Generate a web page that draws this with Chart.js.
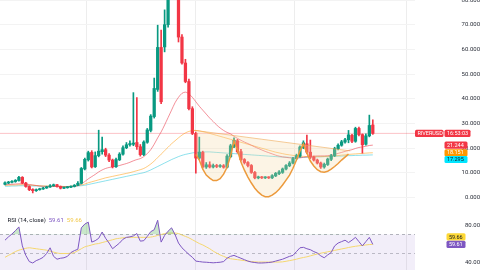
<!DOCTYPE html>
<html>
<head>
<meta charset="utf-8">
<title>RIVERUSD</title>
<script src="https://cdn.jsdelivr.net/npm/chart.js@4.4.1/dist/chart.umd.min.js"></script>
<style>
  html, body { margin: 0; padding: 0; background: #ffffff; }
  #wrap { position: relative; width: 480px; height: 270px; overflow: hidden; }
  #priceChart { position: absolute; left: 0; top: 0; }
  #rsiChart { position: absolute; left: 0; top: 207px; }
</style>
</head>
<body>
<div id="wrap">
  <canvas id="priceChart" width="480" height="207"></canvas>
  <canvas id="rsiChart" width="480" height="63"></canvas>
</div>
<script>
// candles (index = bar number)
const opens  = [5.4,5.9,6.2,6.5,6.9,8.2,5.9,4.5,3.3,2.8, 3.2,3.5,3.9,4.3,4.8,5.2,4.5,3.8,4.0,4.2, 4.5,5.0,5.8,11.6,15.3,18.3,12.5,17.0,18.6,19.4,
  17.2,15.2,12.5,15.3,17.6,20.2,21.4,21.6,22.3,20.6, 17.4,22.4,27.2,32.8,43.8,60.8,61.0,70.0,86.0,92.0, 100.0,65.0,54.5,47.0,36.0,26.0,16.0,18.3,12.4,13.3,
  12.4,13.0,12.6,12.9,12.3,16.6,20.8,23.0,18.6,15.4, 14.2,13.0,10.2,8.0,8.3,8.0,8.2,8.0,8.8,9.7, 10.2,11.6,12.9,14.0,15.8,16.8,20.3,21.8,18.4,16.4,
  15.2,14.0,12.4,13.4,15.5,17.0,19.8,21.2,22.5,23.4, 25.2,22.8,28.0,25.5,21.6,25.0,29.4];
const highs  = [6.4,6.6,6.9,7.3,8.6,8.5,6.2,4.8,3.6,3.5, 3.8,4.2,4.6,5.3,5.5,5.4,4.7,4.3,4.5,4.8, 5.3,6.5,12.2,16.0,18.8,19.0,18.5,27.3,24.5,20.0,
  17.8,15.6,16.0,18.2,21.0,22.3,23.0,42.5,40.5,21.5, 23.0,28.0,33.6,48.4,69.8,67.8,76.0,92.0,102.0,105.0, 104.0,66.0,56.0,48.0,36.8,26.5,24.5,18.8,14.2,14.5,
  13.6,13.5,13.4,13.4,17.4,21.6,24.2,23.6,19.5,15.8, 14.6,13.4,10.6,8.7,8.6,8.5,8.5,9.3,10.2,10.9, 12.0,13.4,14.6,16.3,17.6,21.0,23.0,25.3,23.3,16.8,
  15.6,14.4,14.0,16.0,17.5,20.4,21.8,23.2,24.0,27.2, 25.6,28.5,28.6,25.8,25.8,33.4,31.5];
const lows   = [5.1,5.6,5.9,6.2,6.7,5.6,4.2,2.8,1.9,2.5, 3.0,3.3,3.7,4.1,4.6,4.2,3.5,3.6,3.8,4.0, 4.3,4.8,5.5,11.2,14.8,12.0,12.2,16.5,17.6,16.6,
  14.6,12.0,12.2,15.0,17.2,19.8,20.8,21.0,19.5,16.8, 17.0,22.0,26.6,32.2,43.0,38.0,59.0,69.0,84.0,90.0, 63.0,54.0,46.5,35.5,25.5,9.9,15.5,12.0,11.8,12.0,
  12.0,12.1,12.2,11.9,12.0,16.2,20.2,18.0,14.8,13.6, 12.4,9.8,7.6,7.6,7.7,7.7,7.7,7.7,8.5,9.3, 9.8,11.2,12.5,13.6,15.4,16.4,19.8,17.8,15.8,14.8,
  13.6,11.8,11.9,13.0,15.0,16.6,19.3,20.8,22.0,22.2, 22.2,22.4,25.0,18.0,21.2,24.6,25.6];
const closes = [6.0,6.3,6.6,7.0,8.2,5.9,4.5,3.2,2.8,3.2, 3.5,3.9,4.3,4.8,5.2,4.5,3.8,4.0,4.2,4.5, 5.0,5.8,11.8,15.5,18.2,12.4,17.0,18.8,19.4,17.2,
  15.2,12.5,15.4,17.6,20.2,21.4,21.9,22.1,20.6,17.4, 22.5,27.4,33.0,44.2,60.8,38.8,70.0,86.0,96.0,100.0, 65.0,54.5,47.0,36.0,26.0,16.0,18.4,12.4,13.3,12.4,
  13.0,12.6,12.9,12.3,16.8,21.0,23.2,18.6,15.4,14.2, 13.0,10.2,8.0,8.3,8.0,8.2,8.0,8.9,9.8,10.4, 11.6,13.0,14.0,15.8,17.0,20.5,22.2,18.4,16.4,15.2,
  14.0,12.4,13.5,15.6,17.0,19.8,21.2,22.6,23.4,25.4, 22.8,28.0,25.5,21.4,25.0,29.2,26.0];

// moving averages
const maFast = [5.2,5.3,5.4,5.5,5.6,5.6,5.5,5.3,5.1,4.9, 4.7,4.6,4.5,4.5,4.5,4.5,4.4,4.4,4.4,4.5, 4.6,4.8,5.6,6.5,7.6,8.5,9.4,10.4,11.2,11.8,
  12.2,12.4,12.7,13.0,13.4,13.8,14.3,14.9,15.4,15.8, 16.6,17.8,19.4,21.6,24.2,26.6,29.4,32.4,35.4,38.4, 40.6,42.2,42.7,42.0,40.6,38.8,37.0,35.4,33.8,32.2,
  30.8,29.4,28.2,27.2,26.4,25.8,24.8,24.0,23.2,22.5, 21.9,21.2,20.5,19.9,19.3,18.7,18.2,17.7,17.2,16.8, 16.5,16.3,16.1,16.0,16.0,16.1,16.3,16.5,16.7,16.8,
  16.9,16.9,16.9,17.0,17.2,17.5,17.9,18.3,18.7,19.1, 19.4,19.9,20.3,20.5,20.8,21.1,21.244];
const maMid = [5.0,5.0,5.1,5.1,5.2,5.2,5.2,5.1,5.0,4.9, 4.8,4.7,4.7,4.6,4.6,4.6,4.6,4.5,4.5,4.6, 4.7,4.9,5.1,5.5,6.0,6.4,6.8,7.2,7.6,8.0,
  8.3,8.6,8.9,9.2,9.5,9.8,10.1,10.5,10.9,11.3, 11.8,12.6,13.6,14.8,16.2,17.6,19.0,20.4,21.8,23.0, 24.2,25.3,26.2,26.8,27.1,27.2,27.0,26.7,26.4,26.0,
  25.6,25.2,24.8,24.4,24.0,23.6,23.2,22.8,22.4,22.0, 21.6,21.2,20.8,20.4,20.0,19.6,19.2,18.8,18.4,18.1, 17.8,17.5,17.3,17.1,16.9,16.8,16.7,16.6,16.6,16.6,
  16.6,16.6,16.6,16.7,16.8,16.9,17.0,17.2,17.3,17.5, 17.6,17.7,17.8,17.9,18.0,18.1,18.151];
const maSlow = [4.6,4.6,4.7,4.7,4.8,4.8,4.8,4.8,4.7,4.7, 4.6,4.6,4.6,4.5,4.5,4.5,4.5,4.5,4.5,4.5, 4.6,4.7,4.8,5.0,5.3,5.6,5.9,6.2,6.5,6.8,
  7.1,7.4,7.7,8.0,8.3,8.6,8.9,9.2,9.5,9.8, 10.1,10.6,11.2,11.9,12.6,13.3,14.0,14.7,15.4,16.0, 16.6,17.1,17.5,17.8,18.1,18.3,18.4,18.5,18.5,18.5,
  18.4,18.3,18.2,18.1,18.0,17.9,17.8,17.7,17.6,17.5, 17.4,17.3,17.2,17.1,17.0,16.9,16.8,16.7,16.6,16.5, 16.4,16.4,16.3,16.3,16.3,16.3,16.3,16.3,16.4,16.4,
  16.5,16.5,16.6,16.6,16.7,16.7,16.8,16.8,16.9,17.0, 17.0,17.1,17.1,17.2,17.2,17.25,17.295];

// inverse head & shoulders drawing
const patternStart = 55;
const patternVals = [17.5,15.2,11.5,9.1,7.9,6.9,6.9,7.7,9.5,12.3, 16.8,22.9,19.2,14.4,11.1,8.3,5.9,3.8,2.2,1.0,
  0.4,0.4,1.0,2.0,3.4,5.1,7.1,9.1,11.9,15.2, 18.8,21.7,18.0,14.8,12.8,11.3,10.5,10.3,10.7,11.5, 12.6,13.8,15.2,16.4,17.6];
const neckX = [54.2, 99.5];
const neckY = [27.3, 18.9];

// RSI pane
const rsi = [64,67.5,70.5,74,78,58,48,41.5,40,42.5, 44,46,50,56,47,44,45,45.5,47,51, 53,54.5,77,81,83,62,63.5,66,72.6,66,
  61,55,58,61,65,67,67.5,68.5,71,63, 63.5,68,73,75,85,62,69,73.5,77,70, 61,56,52.5,49,46,42,41.5,41,40.8,40.5,
  40.2,40.5,40.8,41.5,45,47,48,46.5,45,43.5, 42,41,40.5,40,40,40.2,40.5,41,42,43, 44,45.5,47,48,52,56,56.5,55,54,52,
  50.5,47.5,45.5,48.5,51,58,61,62.5,64,61.5, 64,67,62.5,58,62.5,67,59.61];
const rsiMa = [46,48,50,52,53.5,54.5,55.5,56,55.5,55, 54.5,54,53.5,52.5,51.5,50.5,50,50,50,50.3, 51,53,55,57,58,59,60,60.5,61.5,62.5,
  63.5,64.5,65.5,66,66.5,66.8,67,67,67,67, 67,67,67.3,68,69,70,71,71.5,71.5,71.5, 71,69.5,68,66.5,64.5,62.5,60.5,59,57,55,
  52.5,50.5,48.5,47,45.5,44.5,44,43.5,43,42.5, 42,41.5,41.2,41,41,41,41,41,41,41, 41.2,41.8,42.5,43.2,44,45,45.8,46.5,47.5,48.5,
  49.5,50.3,51,51.8,52.5,53.3,54,54.8,55.5,56.3, 57,57.6,58.1,58.5,59,59.4,59.66];
const rsiLevels = [70, 50, 30];

const gridMarks = [23.6, 54.8, 83.3, 115.6];
const symbolName = 'RIVERUSD';
const countdown = '16:53:03';
const rsiTitle = 'RSI (14, close)';

const xMin = -1.44, xMax = 118.16;
const up = '#089981', down = '#f23645';
Chart.defaults.font.family = 'Roboto';

const candleColors = closes.map((c, i) => c >= opens[i] ? up : down);
const pts = arr => arr.map((v, i) => ({ x: i, y: v }));
const flat = v => [{ x: xMin, y: v }, { x: xMax, y: v }];

function xAxis() {
  return {
    type: 'linear', min: xMin, max: xMax, offset: false,
    ticks: { display: false },
    grid: { color: '#ededed', drawTicks: false, offset: false },
    border: { display: false },
    afterBuildTicks: s => { s.ticks = gridMarks.map(v => ({ value: v })); }
  };
}

// keep the price scale 65px wide and stop the label padding from shrinking the plot vertically
function fitRight(s) {
  s.width = 65;
  s.paddingTop = 0;
  s.paddingBottom = 0;
}

function pill(ctx, x, y, w, text, bg, fg) {
  ctx.fillStyle = bg;
  ctx.beginPath();
  ctx.roundRect(x, y - 3.6, w, 7.2, 1.5);
  ctx.fill();
  ctx.fillStyle = fg;
  ctx.textAlign = 'left';
  ctx.textBaseline = 'middle';
  ctx.fillText(text, x + 2.4, y + 0.3);
}

const priceTags = {
  id: 'priceTags',
  afterDraw(chart) {
    const ctx = chart.ctx, ys = chart.scales.y;
    ctx.save();
    ctx.font = '5.5px Roboto';
    const yp = ys.getPixelForValue(closes[closes.length - 1]);
    pill(ctx, 415, yp, 28.5, symbolName, down, '#ffffff');
    pill(ctx, 444.5, yp, 26, countdown, down, '#ffffff');
    const tags = [
      { v: maFast[maFast.length - 1], bg: '#f23645', fg: '#ffffff' },
      { v: maMid[maMid.length - 1], bg: '#ff9800', fg: '#ffffff' },
      { v: maSlow[maSlow.length - 1], bg: '#00e5ff', fg: '#131722' }
    ];
    let prev = -100;
    tags.forEach(t => {
      let y = Math.max(ys.getPixelForValue(t.v), prev + 6.7);
      pill(ctx, 444.5, y, 23, t.v.toFixed(3), t.bg, t.fg);
      prev = y;
    });
    ctx.restore();
  }
};

new Chart(document.getElementById('priceChart'), {
  type: 'line',
  data: {
    datasets: [
      { data: flat(closes[closes.length - 1]), borderColor: 'rgba(242,54,69,0.3)', borderWidth: 1, pointRadius: 0, order: 9 },
      { data: pts(maSlow), borderColor: 'rgba(0,188,212,0.45)', borderWidth: 1, pointRadius: 0, tension: 0.3, order: 8 },
      { data: pts(maMid), borderColor: 'rgba(255,152,0,0.5)', borderWidth: 1, pointRadius: 0, tension: 0.3, order: 7 },
      { data: pts(maFast), borderColor: 'rgba(235,70,85,0.6)', borderWidth: 1, pointRadius: 0, tension: 0.3, order: 6 },
      { type: 'bar', data: lows.map((l, i) => ({ x: i, y: [l, highs[i]] })), backgroundColor: candleColors,
        barThickness: 1, grouped: false, borderWidth: 0, clip: 0, order: 5 },
      { type: 'bar', data: opens.map((o, i) => ({ x: i, y: [o, closes[i]] })), backgroundColor: candleColors,
        barThickness: 2.6, grouped: false, borderWidth: 0, minBarLength: 1, clip: 0, order: 4 },
      { data: neckX.map((x, i) => ({ x: x, y: neckY[i] })), borderColor: 'rgba(236,154,60,0.55)', borderWidth: 1, pointRadius: 0, order: 3 },
      { data: patternVals.map((v, k) => ({ x: patternStart + k, y: v })), borderColor: '#ec9a3c', borderWidth: 1.5,
        pointRadius: 0, tension: 0,
        fill: { target: '-1', above: 'rgba(245,215,160,0.28)', below: 'rgba(245,215,160,0.28)' }, order: 2 }
    ]
  },
  options: {
    responsive: false, animation: false, devicePixelRatio: 1, events: [],
    layout: { padding: 0, autoPadding: false },
    plugins: { legend: { display: false }, tooltip: { enabled: false } },
    scales: {
      x: xAxis(),
      y: {
        position: 'right', min: -3.8, max: 80,
        afterFit: fitRight,
        ticks: { stepSize: 10, includeBounds: false, crossAlign: 'far', padding: 33, color: '#2a2e39',
          font: { size: 6 }, callback: v => Number(v).toFixed(3) },
        grid: { color: '#f3f3f3', drawTicks: false },
        border: { display: false }
      }
    }
  },
  plugins: [priceTags]
});

const rsiTags = {
  id: 'rsiTags',
  afterDraw(chart) {
    const ctx = chart.ctx, ys = chart.scales.y;
    ctx.save();
    ctx.font = '6px Roboto';
    ctx.textAlign = 'left';
    ctx.textBaseline = 'middle';
    let x = 7.5;
    ctx.fillStyle = '#131722';
    ctx.fillText(rsiTitle, x, 13);
    x += ctx.measureText(rsiTitle).width + 3;
    const a = rsi[rsi.length - 1].toFixed(2), b = rsiMa[rsiMa.length - 1].toFixed(2);
    ctx.fillStyle = '#7e57c2';
    ctx.fillText(a, x, 13);
    x += ctx.measureText(a).width + 3;
    ctx.fillStyle = '#f2c94c';
    ctx.fillText(b, x, 13);
    ctx.font = '5.5px Roboto';
    const yr = ys.getPixelForValue(rsi[rsi.length - 1]);
    const ym = Math.min(ys.getPixelForValue(rsiMa[rsiMa.length - 1]), yr - 7.4);
    pill(ctx, 446.5, ym, 19, b, '#fdd835', '#131722');
    pill(ctx, 446.5, yr, 19, a, '#7e57c2', '#ffffff');
    ctx.restore();
  }
};

new Chart(document.getElementById('rsiChart'), {
  type: 'line',
  data: {
    datasets: [
      { data: flat(rsiLevels[0]), borderColor: 'rgba(120,123,134,0.55)', borderWidth: 1, borderDash: [3, 3], pointRadius: 0,
        fill: { target: { value: rsiLevels[2] }, above: 'rgba(126,87,194,0.1)', below: 'rgba(126,87,194,0.1)' }, order: 5 },
      { data: flat(rsiLevels[1]), borderColor: 'rgba(120,123,134,0.45)', borderWidth: 1, borderDash: [3, 3], pointRadius: 0, order: 4 },
      { data: flat(rsiLevels[2]), borderColor: 'rgba(120,123,134,0.45)', borderWidth: 1, borderDash: [3, 3], pointRadius: 0, order: 3 },
      { data: pts(rsiMa), borderColor: '#f5d76e', borderWidth: 1, pointRadius: 0, tension: 0.3, order: 2 },
      { data: pts(rsi), borderColor: '#7e57c2', borderWidth: 1, pointRadius: 0, tension: 0,
        fill: { target: { value: rsiLevels[0] }, above: 'rgba(76,175,80,0.3)', below: 'rgba(0,0,0,0)' }, order: 1 }
    ]
  },
  options: {
    responsive: false, animation: false, devicePixelRatio: 1, events: [],
    layout: { padding: 0, autoPadding: false },
    plugins: { legend: { display: false }, tooltip: { enabled: false } },
    scales: {
      x: xAxis(),
      y: {
        position: 'right', min: 32.63, max: 98.95,
        afterFit: fitRight,
        ticks: { stepSize: 40, includeBounds: false, crossAlign: 'far', padding: 33, color: '#2a2e39',
          font: { size: 6 }, callback: v => Number(v).toFixed(2) },
        grid: { display: false, drawTicks: false },
        border: { display: false }
      }
    }
  },
  plugins: [rsiTags]
});
</script>
</body>
</html>
